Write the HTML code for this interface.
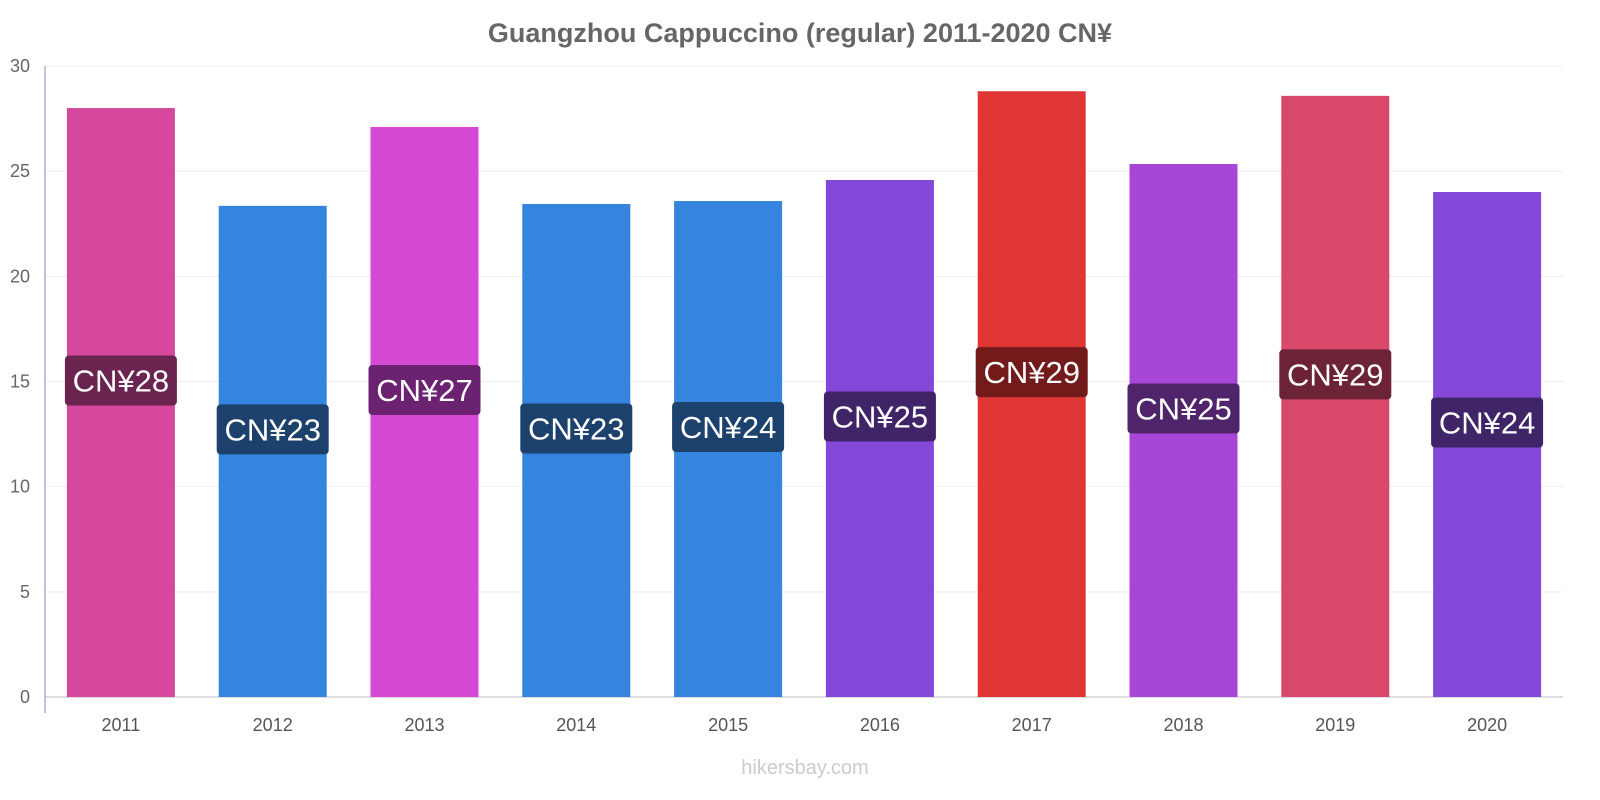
<!DOCTYPE html>
<html><head><meta charset="utf-8"><style>
html,body{margin:0;padding:0;background:#fff;font-family:"Liberation Sans",sans-serif;overflow:hidden;width:1600px;height:800px}
svg{display:block}
</style></head><body>
<svg id="chart" width="1600" height="800" xmlns="http://www.w3.org/2000/svg">
<text x="800" y="42" text-anchor="middle" font-size="27" font-weight="bold" fill="#666">Guangzhou Cappuccino (regular) 2011-2020 CN¥</text>
<text x="805" y="774" text-anchor="middle" font-size="20" fill="#ccc">hikersbay.com</text>
<g id="grid"></g><g id="bars"></g><g id="labels"></g>
</svg>
<script>
const years=["2011","2012","2013","2014","2015","2016","2017","2018","2019","2020"];
const values=[28.0,23.35,27.1,23.44,23.58,24.58,28.8,25.34,28.58,24.01];
const labels=["CN¥28","CN¥23","CN¥27","CN¥23","CN¥24","CN¥25","CN¥29","CN¥25","CN¥29","CN¥24"];
const ticks=[0,5,10,15,20,25,30];
const colors=["#d6479e","#3584de","#d549d4","#3584de","#3584de","#8448d8","#e03535","#a846d8","#d8486a","#8448d8"];
const lblColors=["#6b2350","#1c416d","#6b2270","#1c416d","#1c416d","#3f2468","#731b1b","#50246a","#6b2335","#3f2468"];
const ns="http://www.w3.org/2000/svg";
const x0=45,x1=1563,y0=697,y1=66,band=(x1-x0)/years.length;
const y=v=>y0-(v/30)*(y0-y1);
const cx=i=>x0+band*(i+0.5);
function mk(t,a,p){const e=document.createElementNS(ns,t);for(const k in a)e.setAttribute(k,a[k]);p.appendChild(e);return e;}
const g=document.getElementById('grid'),b=document.getElementById('bars'),l=document.getElementById('labels');
ticks.forEach(t=>{
  const ln=mk('line',{x1:x0,x2:x1,y1:y(t),y2:y(t),stroke:t===0?'#bbb':'#eee','stroke-width':1},g);
  
  
  const tx=mk('text',{x:30,y:y(t)+6,'text-anchor':'end','font-size':18,fill:'#666'},g);tx.textContent=t;
  
  
});
const ax=mk('line',{x1:x0,x2:x0,y1:y1,y2:713,stroke:'#b9aacc','stroke-width':1.5},g);


years.forEach((yr,i)=>{
  const w=108,c=cx(i),top=y(values[i]);
  const r=mk('rect',{x:c-w/2,y:top,width:w,height:y0-top,fill:colors[i]},b);
  
  
  const t=mk('text',{x:c,y:731,'text-anchor':'middle','font-size':18,fill:'#555'},g);t.textContent=yr;
  
  
  const mid=(top+y0)/2-22;
  const bx=mk('rect',{x:c-56,y:mid-25,width:112,height:50,rx:4,fill:lblColors[i]},l);
  
  
  const lt=mk('text',{x:c,y:mid+11,'text-anchor':'middle','font-size':31,fill:'#fff'},l);lt.textContent=labels[i];
  
  
});
</script>
</body></html>
